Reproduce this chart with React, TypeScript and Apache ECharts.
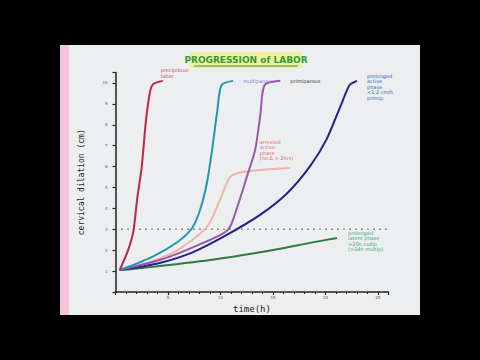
import React, { useEffect, useRef } from "react";
import * as echarts from "echarts";

// time (h), cervical dilation (cm)
const precipitous: [number, number][] = [
  [0.4, 1.05], [1.2, 2.0], [1.7, 2.9], [2.05, 4.4], [2.5, 6.0], [2.9, 8.2], [3.3, 9.6], [3.6, 9.95], [4.5, 10.1],
];
const multiparous: [number, number][] = [
  [0.4, 1.05], [3.3, 1.63], [5.9, 2.39], [7.3, 3.06], [8.05, 3.92], [8.7, 5.2], [9.2, 6.8], [9.7, 8.7], [10.1, 9.9], [11.2, 10.1],
];
const primiparous: [number, number][] = [
  [0.4, 1.05], [4.2, 1.53], [7.4, 2.15], [10.7, 2.97], [11.6, 4.07], [12.5, 5.5], [13.3, 6.8], [13.8, 8.5], [14.2, 9.9], [15.7, 10.1],
];
const arrestedActive: [number, number][] = [
  [0.4, 1.05], [3.3, 1.43], [5.9, 2.0], [8.7, 3.1], [9.95, 4.4], [10.9, 5.5], [12.1, 5.74], [16.6, 5.93],
];
const prolongedActive: [number, number][] = [
  [0.4, 1.05], [4.2, 1.39], [7.4, 1.91], [10.6, 2.73], [13.8, 3.7], [16.3, 4.7], [18.5, 6.0], [20.1, 7.3], [21.6, 9.1], [22.3, 9.9], [23.0, 10.1],
];
const prolongedLatent: [number, number][] = [
  [0.4, 1.05], [2.6, 1.15], [9.0, 1.53], [15.4, 2.05], [18.5, 2.35], [21.1, 2.58],
];
const activeThreshold: [number, number][] = [[0, 3], [26, 3]];

const yTicks = [1, 2, 3, 4, 5, 6, 7, 8, 9, 10];
const xTicks = [5, 10, 15, 20, 25];

export default function App() {
  const ref = useRef<HTMLDivElement>(null);
  useEffect(() => {
    if (!ref.current) return;
    const chart = echarts.init(ref.current, null, { renderer: "svg" });
    const line = (name: string, data: [number, number][], color: string, label: string, offset: number[], labelColor?: string) => ({
      name,
      type: "line",
      data,
      smooth: 0.25,
      symbol: "none",
      lineStyle: { color, width: 2 },
      endLabel: {
        show: true,
        formatter: label,
        color: labelColor || color,
        fontSize: 5,
        lineHeight: 5.5,
        fontFamily: "DejaVu Sans",
        align: "left",
        offset,
      },
      z: 3,
    });
    chart.setOption({
      animation: false,
      backgroundColor: "#000",
      textStyle: { fontFamily: "DejaVu Sans" },
      graphic: [
        { type: "rect", shape: { x: 60, y: 45, width: 360, height: 270 }, style: { fill: "#eceef0" }, z: -10 },
        { type: "rect", shape: { x: 60, y: 45, width: 9, height: 270 }, style: { fill: "#f3c4dc" }, z: -9 },
        { type: "rect", shape: { x: 190, y: 52, width: 112, height: 16 }, style: { fill: "#f2f0a0" }, z: -8 },
        {
          type: "text",
          x: 246,
          y: 60,
          style: {
            text: "PROGRESSION of LABOR",
            fill: "#2f9a3a",
            font: "bold 9px 'DejaVu Sans'",
            align: "center",
            verticalAlign: "middle",
          },
        },
        { type: "line", shape: { x1: 194, y1: 66, x2: 298, y2: 66 }, style: { stroke: "#2f9a3a", lineWidth: 1 } },
      ],
      grid: { left: 115.5, top: 72.5, width: 273, height: 219.5 },
      xAxis: {
        type: "value",
        min: 0,
        max: 26,
        interval: 5,
        name: "time(h)",
        nameLocation: "middle",
        nameGap: 12,
        nameTextStyle: { color: "#222", fontSize: 9, fontFamily: "DejaVu Sans Mono" },
        axisLine: { show: true, lineStyle: { color: "#222", width: 1.5 } },
        axisTick: { show: true, length: 3, lineStyle: { color: "#222", width: 1.2 } },
        minorTick: { show: true, splitNumber: 5, length: 2, lineStyle: { color: "#222" } },
        splitLine: { show: false },
        axisLabel: {
          fontSize: 4,
          color: "#555",
          margin: 3,
          formatter: (v: number) => (xTicks.includes(v) ? String(v) : ""),
        },
      },
      yAxis: {
        type: "value",
        min: 0,
        max: 10.5,
        interval: 1,
        name: "cervical dilation (cm)",
        nameLocation: "middle",
        nameGap: 30,
        nameTextStyle: { color: "#222", fontSize: 8, fontFamily: "DejaVu Sans Mono" },
        axisLine: { show: true, lineStyle: { color: "#222", width: 1.5 } },
        axisTick: { show: true, length: 3, lineStyle: { color: "#222", width: 1.2 } },
        splitLine: { show: false },
        axisLabel: {
          fontSize: 4,
          color: "#555",
          margin: 8,
          formatter: (v: number) => (yTicks.includes(v) ? String(v) : ""),
        },
      },
      series: [
        {
          name: "active phase threshold",
          type: "line",
          data: activeThreshold,
          symbol: "none",
          lineStyle: { color: "#333", width: 1.5, type: [1, 5] },
          z: 2,
        },
        line("prolonged latent phase", prolongedLatent, "#2e7a45", "prolonged\nlatent phase\n>20h nullip\n(>14h multip)", [3, 3], "#3aa878"),
        line("arrested active phase", arrestedActive, "#f2b4a8", "arrested\nactive\nphase\n(no Δ × 2hrs)", [-38, -18], "#e06a6a"),
        line("prolonged active phase", prolongedActive, "#22228a", "prolonged\nactive\nphase\n<1.2 cm/h\nprimip", [2, 6], "#2a6ab8"),
        line("primiparous", primiparous, "#9a58a6", "primiparous", [2, 0], "#333"),
        line("multiparous", multiparous, "#1d9aaa", "multiparous", [2, 0], "#6a8ad0"),
        line("precipitous labor", precipitous, "#c2244c", "precipitous\nlabor", [-10, -8], "#d04070"),
      ],
    });
    return () => chart.dispose();
  }, []);
  return (
    <div
      ref={ref}
      style={{ position: "fixed", left: 0, top: 0, width: 480, height: 360 }}
    />
  );
}
